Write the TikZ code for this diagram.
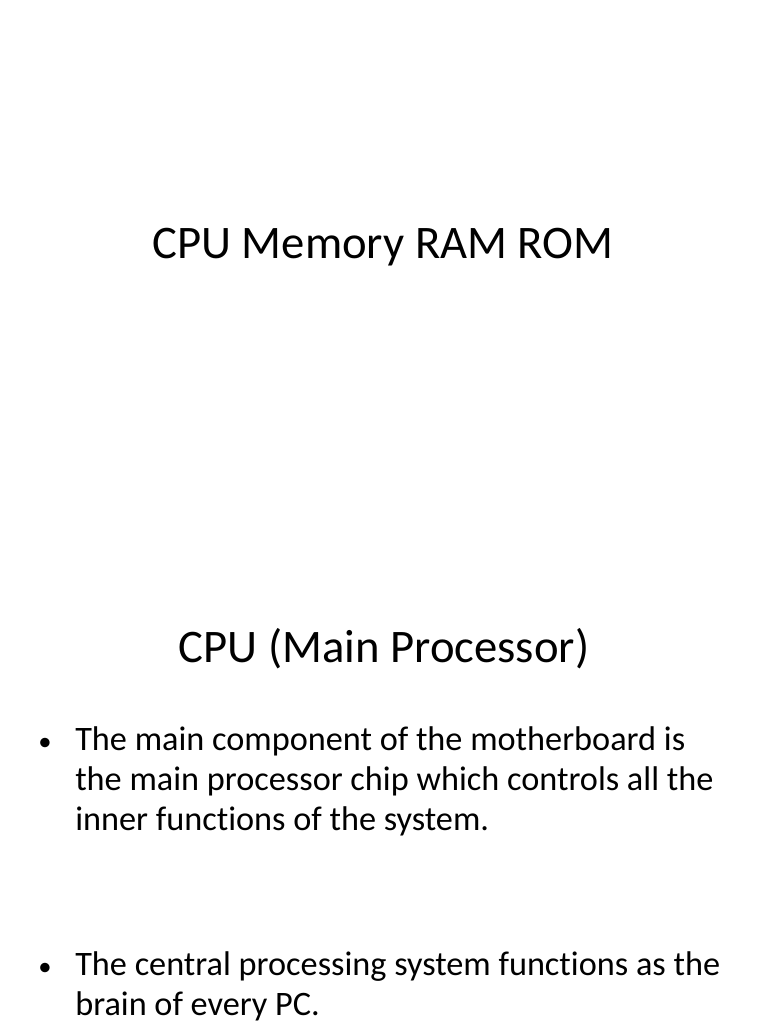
\documentclass[tikz,border=0pt]{standalone}
\usepackage{fontspec}
\setmainfont[Ligatures=NoCommon]{Carlito}
\begin{document}
\begin{tikzpicture}[x=0.75pt,y=-0.75pt,
  ttl/.style={font=\fontsize{35}{42}\selectfont,anchor=base,inner sep=0},
  body/.style={font=\fontsize{25.7}{30}\selectfont,anchor=base west,inner sep=0}]
\useasboundingbox[fill=white] (0,0) rectangle (768,1024);
\node[ttl] (t1) at (383,258) {CPU Memory RAM ROM};
\node[ttl] (t2) at (384,662) {CPU (Main Processor)};
\node[body,anchor=base,font=\fontsize{20}{24}\selectfont] (b1) at (45,750) {•};
\node[body] (l1) at (75,750) {The main component of the motherboard is};
\node[body] (l2) at (75,790) {the main processor chip which controls all the};
\node[body] (l3) at (75,830) {inner functions of the system.};
\node[body,anchor=base,font=\fontsize{20}{24}\selectfont] (b2) at (45,975) {•};
\node[body] (l4) at (75,975) {The central processing system functions as the};
\node[body] (l5) at (75,1015) {brain of every PC.};
\end{tikzpicture}
\end{document}
